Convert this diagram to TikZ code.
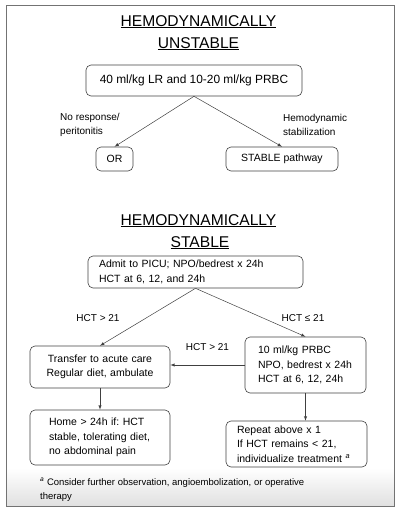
\documentclass[tikz,border=0pt]{standalone}
\usepackage{fontspec}
\setmainfont{Liberation Sans}
\frenchspacing
\usetikzlibrary{positioning}

\begin{document}
\begin{tikzpicture}[x=1pt,y=-1pt,
  box/.style={draw=black!75,line width=0.6pt,rounded corners=5pt,inner ysep=0pt,font=\fontsize{10.5}{14.5}\selectfont},
  lbl/.style={inner sep=0pt,font=\fontsize{10}{14}\selectfont},
  ttl/.style={inner sep=0pt,font=\fontsize{15.6}{22}\selectfont},
  arr/.style={-latex,draw=black!75,line width=0.5pt}]
  \useasboundingbox (0,0) rectangle (400,509);
  \shade[top color=white,bottom color=black!12] (6,468) rectangle (394,506);
  \draw[black!55,line width=0.7pt] (6,5) rectangle (394,506);

  % unstable
  \node[ttl,anchor=base] (hemoU) at (198.5,26) {\underline{HEMODYNAMICALLY}};
  \node[ttl,anchor=base] (unstable) at (198.5,48) {\underline{UNSTABLE}};
  \node[box,font=\fontsize{11.9}{14}\selectfont,minimum width=216pt,minimum height=31pt,inner xsep=0pt] (fluids) at (194,80.5) {40 ml/kg LR and 10-20 ml/kg PRBC};
  \node[box,minimum width=37pt,minimum height=24pt,inner xsep=0pt] (OR) at (114.5,159) {OR};
  \node[box,minimum width=112pt,minimum height=24pt,inner xsep=0pt] (stblpath) at (282,159) {STABLE pathway};
  \node[lbl,anchor=west,align=left] (noresp) at (60,125) {No response/\\peritonitis};
  \node[lbl,anchor=west,align=left] (hemostab) at (283,125) {Hemodynamic\\stabilization};

  \path
  (fluids.south) edge[arr] (OR.north)
  (fluids.south) edge[arr] (stblpath.north);

  % stable
  \node[ttl,anchor=base] (hemoS) at (198.5,225) {\underline{HEMODYNAMICALLY}};
  \node[ttl,anchor=base] (stable) at (200,247) {\underline{STABLE}};
  \node[box,text width=193pt,inner xsep=11pt,minimum height=32pt,align=left] (admit) at (195.5,272) {Admit to PICU; NPO/bedrest x 24h\\HCT at 6, 12, and 24h};
  \node[box,text width=120pt,inner xsep=10pt,minimum height=42pt,align=center] (transfer) at (100,367) {Transfer to acute care\\Regular diet, ambulate};
  \node[box,text width=95pt,inner xsep=13pt,minimum height=56pt,align=left] (prbc) at (305.5,365) {10 ml/kg PRBC\\NPO, bedrest x 24h\\HCT at 6, 12, 24h};
  \node[box,text width=102pt,inner xsep=19pt,minimum height=55pt,align=left] (home) at (100,437.5) {Home > 24h if: HCT\\stable, tolerating diet,\\no abdominal pain};
  \node[box,text width=119pt,inner xsep=11pt,minimum height=46pt,align=left] (repeat) at (296.5,444) {Repeat above x 1\\If HCT remains < 21,\\individualize treatment \textsuperscript{\itshape a}};
  \node[lbl] (hctgt) at (98,318) {HCT > 21};
  \node[lbl] (hctle) at (303,318) {HCT ≤ 21};

  \path
  (admit.south) edge[arr] (transfer.north)
  (admit.south) edge[arr] (prbc.north)
  (transfer.south) edge[arr] (home.north);
  \draw[arr] (prbc.west) -- (prbc.west -| transfer.east) node[lbl,midway,above=14pt] (hctgt2) {HCT > 21};
  \draw[arr] (prbc.south) -- (prbc.south |- repeat.north);

  % footnote
  \node[anchor=west,inner sep=0pt,align=left,font=\fontsize{9.5}{14}\selectfont] (fnote) at (40,490) {\textsuperscript{\itshape a} Consider further observation, angioembolization, or operative\\therapy};
\end{tikzpicture}
\end{document}
